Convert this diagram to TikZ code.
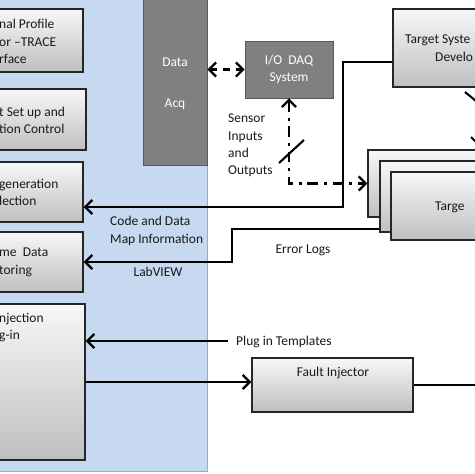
\documentclass[tikz,border=0pt]{standalone}
\usepackage{fontspec}
\setmainfont{Carlito}
\usetikzlibrary{positioning,fit,arrows.meta}
\definecolor{panelblue}{RGB}{198,217,241}
\definecolor{panelline}{RGB}{141,176,216}
\definecolor{accgray}{RGB}{128,128,128}

\tikzset{
  gbox/.style={draw=black!85, line width=1pt, top color=gray!6, bottom color=gray!50, inner sep=0pt},
  dbox/.style={draw=gray!70!black, line width=0.6pt, fill=accgray, inner sep=0pt},
  txt/.style={inner sep=0pt, font=\fontsize{11.5}{14.9}\selectfont, text=black!90},
  wtxt/.style={txt, text=white},
  conn/.style={line width=1.8pt, black},
  tip/.style={-{Straight Barb[length=6pt,width=12pt,line width=2pt]}},
  dtip/.style={{Straight Barb[length=6pt,width=12pt,line width=2pt]}-{Straight Barb[length=6pt,width=12pt,line width=2pt]}},
}

\begin{document}
\begin{tikzpicture}[x=0.03cm, y=-0.03cm]
\useasboundingbox (0,0) rectangle (474,474);

% LabVIEW panel
\fill[panelblue, draw=panelline, line width=0.8pt] (-5,-5) rectangle (207,471);

% left column boxes
\node[gbox, fit={(-30,9) (83,72)}] (prof) {};
\node[gbox, fit={(-30,89) (86,150)}] (setup) {};
\node[gbox, fit={(-30,162) (83,222)}] (gensel) {};
\node[gbox, fit={(-30,232) (83,292)}] (mon) {};
\node[gbox, fit={(-30,304) (85,460)}] (inj) {};
\node[txt, anchor=west, align=left] (proftxt) at (-1,41.5) {nal Profile\\or –TRACE\\rface};
\node[txt, anchor=west, align=left] (setuptxt) at (-1,120.5) {t Set up and\\tion Control};
\node[txt, anchor=west, align=left] (genseltxt) at (-1,192.5) {generation\\lection};
\node[txt, anchor=west, align=left] (montxt) at (-1,262.5) {me~ Data\\toring};
\node[txt, anchor=west, align=left] (injtxt) at (-1,327.5) {njection\\g-in};

% data acquisition
\node[dbox, fit={(143,-10) (207,165)}] (dacq) {};
\node[wtxt] (dacqA) at (175,62) {Data};
\node[wtxt] (dacqB) at (175,104) {Acq};
\node[dbox, fit={(245,41) (333,98)}] (io) {};
\node[wtxt, align=center] (iotxt) at (io.center) {I/O~ DAQ\\System};

% target side
\node[gbox, fit={(393,9) (500,87)}] (tsd) {};
\node[txt, anchor=west] (tsdA) at (405,40) {Target Syste};
\node[txt, anchor=west] (tsdB) at (435,57) {Develo};
\node[gbox, fit={(368,150) (500,217)}] (tA) {};
\node[gbox, fit={(380,161) (500,232)}] (tB) {};
\node[gbox, fit={(391,172) (500,240)}] (tC) {};
\node[txt, anchor=west] (tCtxt) at (435,207) {Targe};
\node[gbox, fit={(252,358) (413,412)}] (fi) {};
\node[txt] (fitxt) at (333,373) {Fault Injector};

% labels
\node[txt, anchor=west, align=left] (sensor) at (228,145.5) {Sensor\\Inputs\\and\\Outputs};
\node[txt, anchor=west, align=left] (codemap) at (110,231) {Code and Data\\Map Information};
\node[txt] (labview) at (158,272) {LabVIEW};
\node[txt] (errlogs) at (303,250) {Error Logs};
\node[txt, anchor=west] (plugin) at (236,342) {Plug in Templates};
\coordinate (fiout) at (480,385);

% connectors
\draw[conn, dash pattern=on 6pt off 5pt, dtip] (dacq.east |- io.west) -- (io.west);
\draw[conn, dash pattern=on 9pt off 5pt on 2.5pt off 5pt, dtip] (io.south) |- (tA.west);
\draw[conn] (279,163) -- (304,140);
\draw[conn, tip] (tsd.west |- 0,62) -| (343,207) -- (gensel.east |- 0,207);
\draw[conn, tip] (tB.west |- 0,229) -| (232,262) -- (mon.east |- 0,262);
\draw[conn, tip] (plugin.west) ++(-8,-1) -- (inj.east |- 0,341);
\draw[conn, tip] (inj.east |- 0,382) -- (fi.west |- 0,382);
\draw[conn] (fi.east |- fiout) -- (fiout);
\draw[conn] (465,92) -- (476,101);
\draw[conn] (471,137) -- (476,142);
\end{tikzpicture}
\end{document}
